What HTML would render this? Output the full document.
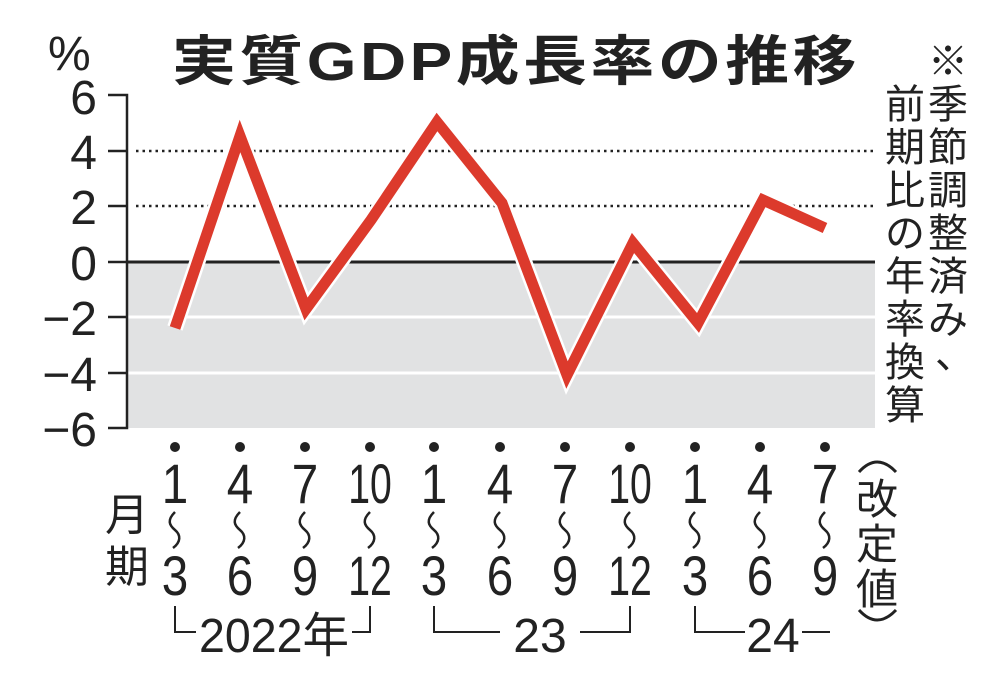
<!DOCTYPE html>
<html><head><meta charset="utf-8"><style>
html,body{margin:0;padding:0;background:#fff}
svg text{font-family:"Liberation Sans","Noto Sans CJK JP",sans-serif;fill:#222}
</style></head><body>
<svg width="1000" height="683" viewBox="0 0 1000 683" xmlns="http://www.w3.org/2000/svg">
<defs><path id="t" d="M0 512 C-8 520 -6 525 0 530 C6 535 6 542 -2 548" fill="none" stroke="#222" stroke-width="2.5"/></defs>
<rect x="0" y="0" width="1000" height="683" fill="#fff"/>
<rect x="128" y="262" width="747" height="166" fill="#e1e2e3"/>
<line x1="128" y1="317" x2="875" y2="317" stroke="#fff" stroke-width="3"/>
<line x1="128" y1="373" x2="875" y2="373" stroke="#fff" stroke-width="3"/>
<line x1="128" y1="262" x2="875" y2="262" stroke="#222" stroke-width="3"/>
<line x1="136" y1="151" x2="875" y2="151" stroke="#222" stroke-width="2.5" stroke-dasharray="2.5 4"/>
<line x1="136" y1="206" x2="875" y2="206" stroke="#222" stroke-width="2.5" stroke-dasharray="2.5 4"/>
<path d="M108 95 H127 V428 H108 M108 151 H127 M108 206 H127 M108 262 H127 M108 317 H127 M108 373 H127" fill="none" stroke="#222" stroke-width="2.5"/>
<g font-size="48" text-anchor="end">
<text x="97" y="114">6</text>
<text x="97" y="169">4</text>
<text x="97" y="224">2</text>
<text x="97" y="280">0</text>
<text x="97" y="335">−2</text>
<text x="97" y="391">−4</text>
<text x="97" y="446">−6</text>
</g>
<text x="48" y="70" font-size="48">%</text>
<text x="172" y="80" font-size="54" font-weight="bold" letter-spacing="3" textLength="688" lengthAdjust="spacingAndGlyphs">実質GDP成長率の推移</text>
<polyline points="175,328 240,136 306,309 371,220 437,122 502,203 567,375 633,243 698,323 763,200 825,228" fill="none" stroke="#fff" stroke-width="16"/>
<polyline points="175,328 240,136 306,309 371,220 437,122 502,203 567,375 633,243 698,323 763,200 825,228" fill="none" stroke="#dc3a2c" stroke-width="11"/>
<g fill="#222">
<circle cx="175" cy="447" r="5"/><circle cx="240" cy="447" r="5"/><circle cx="305" cy="447" r="5"/><circle cx="370" cy="447" r="5"/><circle cx="434" cy="447" r="5"/><circle cx="500" cy="447" r="5"/><circle cx="565" cy="447" r="5"/><circle cx="630" cy="447" r="5"/><circle cx="695" cy="447" r="5"/><circle cx="760" cy="447" r="5"/><circle cx="825" cy="447" r="5"/>
</g>
<g font-size="56" text-anchor="middle">
<g transform="translate(175,0) scale(0.85,1)"><text x="0" y="503">1</text><text x="0" y="595">3</text></g>
<g transform="translate(240,0) scale(0.85,1)"><text x="0" y="503">4</text><text x="0" y="595">6</text></g>
<g transform="translate(305,0) scale(0.85,1)"><text x="0" y="503">7</text><text x="0" y="595">9</text></g>
<g transform="translate(370,0) scale(0.7,1)"><text x="0" y="503">10</text><text x="0" y="595">12</text></g>
<g transform="translate(434,0) scale(0.85,1)"><text x="0" y="503">1</text><text x="0" y="595">3</text></g>
<g transform="translate(500,0) scale(0.85,1)"><text x="0" y="503">4</text><text x="0" y="595">6</text></g>
<g transform="translate(565,0) scale(0.85,1)"><text x="0" y="503">7</text><text x="0" y="595">9</text></g>
<g transform="translate(630,0) scale(0.7,1)"><text x="0" y="503">10</text><text x="0" y="595">12</text></g>
<g transform="translate(695,0) scale(0.85,1)"><text x="0" y="503">1</text><text x="0" y="595">3</text></g>
<g transform="translate(760,0) scale(0.85,1)"><text x="0" y="503">4</text><text x="0" y="595">6</text></g>
<g transform="translate(825,0) scale(0.85,1)"><text x="0" y="503">7</text><text x="0" y="595">9</text></g>
</g>
<use href="#t" x="175"/><use href="#t" x="240"/><use href="#t" x="305"/><use href="#t" x="370"/><use href="#t" x="434"/><use href="#t" x="500"/><use href="#t" x="565"/><use href="#t" x="630"/><use href="#t" x="695"/><use href="#t" x="760"/><use href="#t" x="825"/>
<text x="105" y="530" font-size="44">月</text>
<text x="105" y="582" font-size="44">期</text>
<g fill="none" stroke="#222" stroke-width="2">
<path d="M175 606 V632 H196"/><path d="M352 632 H370 V606"/>
<path d="M434 606 V632 H500"/><path d="M580 632 H630 V606"/>
<path d="M695 606 V632 H745"/><path d="M802 632 H830"/>
</g>
<g font-size="48" text-anchor="middle">
<text x="274" y="652" textLength="150" lengthAdjust="spacingAndGlyphs">2022年</text>
<text x="540" y="652">23</text>
<text x="773" y="652">24</text>
</g>
<path d="M859 472 Q877 452 896 472" fill="none" stroke="#222" stroke-width="3"/>
<path d="M859 610 Q877 630 896 610" fill="none" stroke="#222" stroke-width="3"/>
<g font-size="42" text-anchor="middle">
<text x="877" y="514">改</text>
<text x="877" y="559">定</text>
<text x="877" y="604">値</text>
</g>
<g font-size="40" text-anchor="middle">
<text x="948" y="75">※</text>
<text x="948" y="118">季</text>
<text x="948" y="161">節</text>
<text x="948" y="204">調</text>
<text x="948" y="247">整</text>
<text x="948" y="290">済</text>
<text x="948" y="333">み</text>
<text x="955" y="368">、</text>
<text x="905" y="118">前</text>
<text x="905" y="161">期</text>
<text x="905" y="204">比</text>
<text x="905" y="247">の</text>
<text x="905" y="290">年</text>
<text x="905" y="333">率</text>
<text x="905" y="376">換</text>
<text x="905" y="419">算</text>
</g>
</svg>
</body></html>
